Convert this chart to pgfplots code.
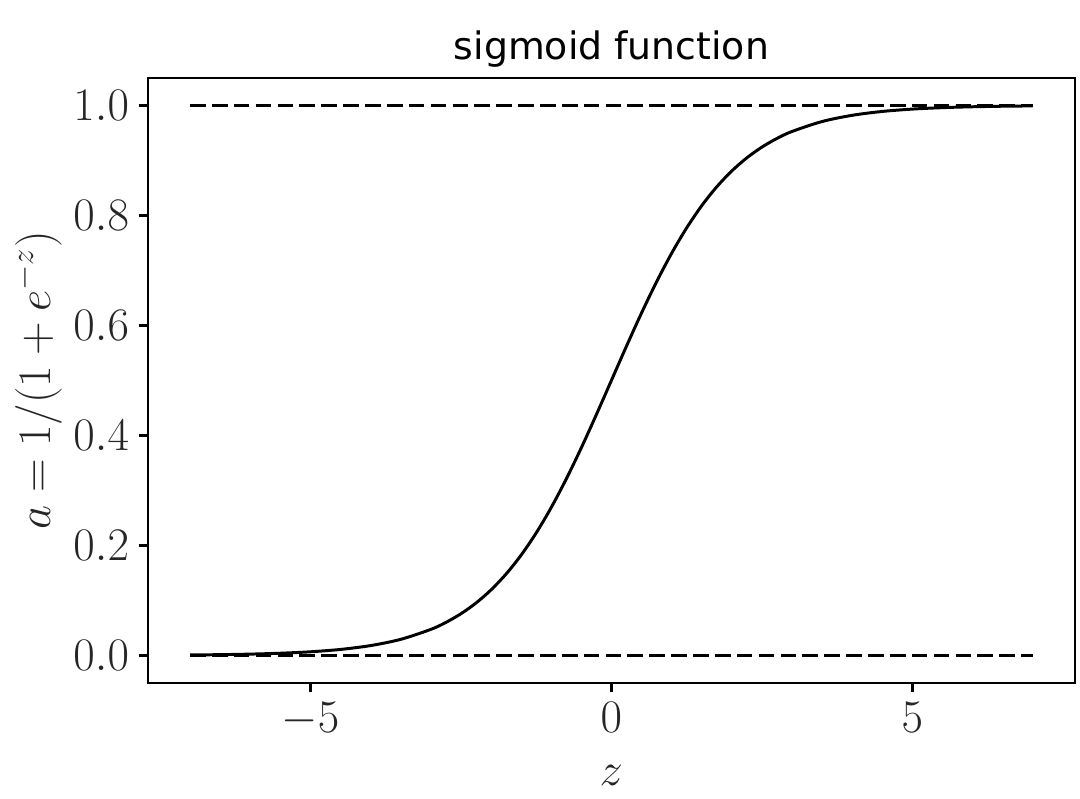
\documentclass[border=0pt]{standalone}
\usepackage{pgfplots}
\pgfplotsset{compat=1.18}
\usepackage{fontspec}
\newfontfamily\titlefont{DejaVu Sans}
\begin{document}
\begin{tikzpicture}
\useasboundingbox (-54.8pt,-42.96pt) rectangle (345.2pt,252.96pt);
\begin{axis}[
  scale only axis, width=343.3pt, height=224.1pt,
  xmin=-7.7, xmax=7.7, ymin=-0.05, ymax=1.05,
  xtick={-5,0,5}, ytick={0,0.2,0.4,0.6,0.8,1.0},
  yticklabel style={/pgf/number format/fixed, /pgf/number format/fixed zerofill, /pgf/number format/precision=1},
  tick align=outside, tick pos=left, major tick length=3.5pt,
  every tick/.style={black, line width=0.9pt},
  tick label style={font=\fontsize{17}{20}\selectfont, text=black!85},
  label style={font=\fontsize{17}{20}\selectfont, text=black!85},
  xlabel={$z$}, ylabel={$a = 1/(1+e^{-z})$},
  xlabel style={yshift=-4pt},
  ylabel style={yshift=-2.5pt},
  title={sigmoid function},
  title style={font=\fontsize{14}{17}\selectfont\titlefont, yshift=-5.5pt},
  axis line style={line width=0.9pt},
]
\addplot[black, line width=1.1pt, dash pattern=on 5.8pt off 2.3pt] coordinates {(-7,0) (7,0)};
\addplot[black, line width=1.1pt, dash pattern=on 5.8pt off 2.3pt] coordinates {(-7,1) (7,1)};
\addplot[black, line width=1.1pt, smooth] coordinates {
(-7,0.00091) (-6.5,0.00150) (-6,0.00247) (-5.5,0.00407) (-5,0.00669)
(-4.5,0.01099) (-4,0.01799) (-3.5,0.02931) (-3,0.04743) (-2.75,0.06009)
(-2.5,0.07586) (-2.25,0.09534) (-2,0.11920) (-1.75,0.14805) (-1.5,0.18243)
(-1.25,0.22270) (-1,0.26894) (-0.75,0.32082) (-0.5,0.37754) (-0.25,0.43782)
(0,0.5) (0.25,0.56218) (0.5,0.62246) (0.75,0.67918) (1,0.73106)
(1.25,0.77730) (1.5,0.81757) (1.75,0.85195) (2,0.88080) (2.25,0.90466)
(2.5,0.92414) (2.75,0.93991) (3,0.95257) (3.5,0.97069) (4,0.98201)
(4.5,0.98901) (5,0.99331) (5.5,0.99593) (6,0.99753) (6.5,0.99850) (7,0.99909)
};
\end{axis}
\end{tikzpicture}
\end{document}
